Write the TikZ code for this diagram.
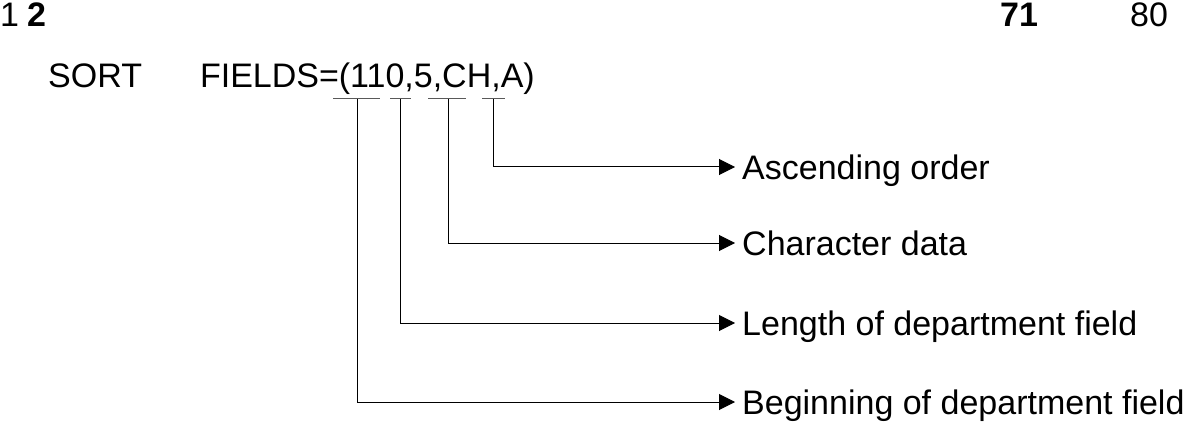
\documentclass[tikz,border=0pt]{standalone}
\usepackage{fontspec}
\setmainfont{Liberation Sans}
\usetikzlibrary{arrows.meta}
\begin{document}
\begin{tikzpicture}[x=1pt,y=-1pt,
  txt/.style={font=\fontsize{34}{40}\selectfont,inner sep=0pt,anchor=base west},
  ul/.style={line width=1pt,gray!70!black},
  ln/.style={line width=1pt},
  arr/.style={ln,-{Triangle[length=16pt,width=16pt]}}]
\useasboundingbox (0,0) rectangle (1196,422);
\node[txt] (c1) at (0,27) {1};
\node[txt] (c2) at (27,27) {\bfseries 2};
\node[txt] (c71) at (1000,27) {\bfseries 71};
\node[txt] (c80) at (1130,27) {80};
\node[txt] (sort) at (48,88) {SORT};
\node[txt,anchor=base east] (fields) at (535,88) {FIELDS=(110,5,CH,A)};
\draw[ul] (333,99) -- (380,99);
\draw[ul] (390,99) -- (411,99);
\draw[ul] (428,99) -- (466,99);
\draw[ul] (482,99) -- (505,99);
\node[txt] (l1) at (742,179) {Ascending order};
\node[txt] (l2) at (742,255) {Character data};
\node[txt] (l3) at (742,335) {Length of department field};
\node[txt] (l4) at (742,414) {Beginning of department field};
\coordinate (a1) at (493,99);
\coordinate (a2) at (448,99);
\coordinate (a3) at (400,99);
\coordinate (a4) at (357,99);
\coordinate (e1) at (735,167);
\coordinate (e2) at (735,243);
\coordinate (e3) at (735,323);
\coordinate (e4) at (735,402);
\draw[arr] (a1) |- (e1);
\draw[arr] (a2) |- (e2);
\draw[arr] (a3) |- (e3);
\draw[arr] (a4) |- (e4);
\end{tikzpicture}
\end{document}
